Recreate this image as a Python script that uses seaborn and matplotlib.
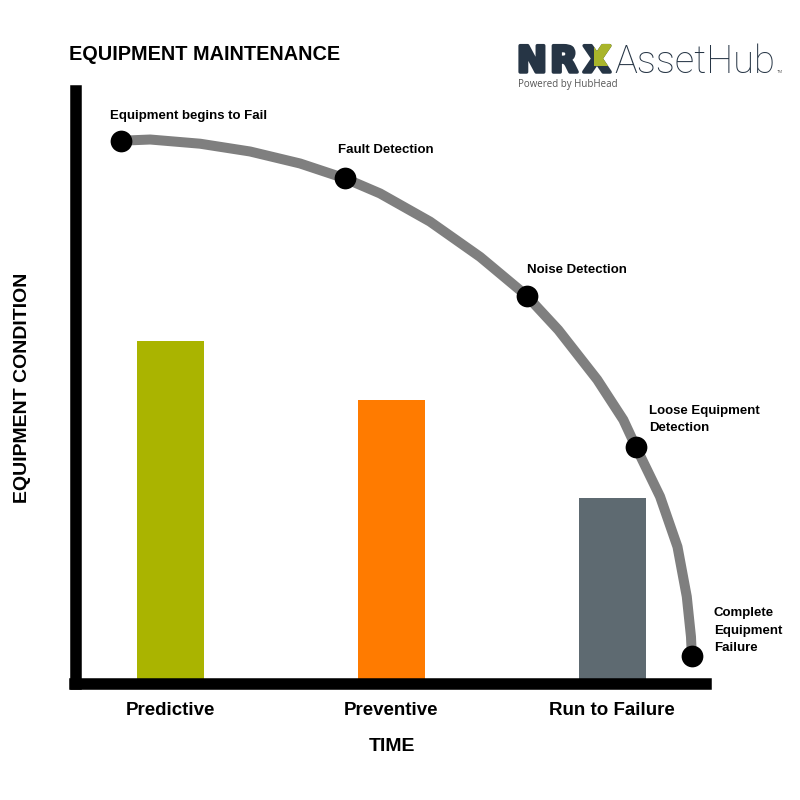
import numpy as np
import pandas as pd
import matplotlib
matplotlib.use("Agg")
import matplotlib.pyplot as plt
import matplotlib.patheffects as pe
from matplotlib.patches import Rectangle
import seaborn as sns

# bar data (condition units, 0-100 scale)
categories = ["Predictive", "Preventive", "Run to Failure"]
bar_values = [57.3, 47.4, 31.1]
bar_colors = ["#aab400", "#ff7b00", "#5e6a71"]

# degradation curve
curve_x = [-0.222, -0.090, 0.136, 0.362, 0.588, 0.792, 0.950, 1.176, 1.403, 1.614,
           1.757, 1.933, 2.051, 2.109, 2.217, 2.296, 2.338, 2.357, 2.361]
curve_y = [90.7, 90.9, 90.2, 88.9, 86.9, 84.4, 81.9, 77.2, 71.3, 64.8,
           59.1, 50.8, 44.1, 39.5, 31.3, 22.9, 14.6, 7.9, 4.7]

# the five milestones on the curve
stage_labels = ["Equipment begins to Fail", "Fault Detection", "Noise Detection",
                "Loose Equipment\nDetection", "Complete\nEquipment\nFailure"]
stage_x = [-0.222, 0.792, 1.614, 2.109, 2.361]
stage_y = [90.7, 84.4, 64.8, 39.5, 4.7]

sns.set_style("white")
plt.rcParams['font.family'] = ['Liberation Sans', 'DejaVu Sans']
plt.rcParams['text.color'] = 'black'
plt.rcParams['axes.labelcolor'] = 'black'
plt.rcParams['xtick.color'] = 'black'

fig = plt.figure(figsize=(8, 8), dpi=100)
ax = fig.add_axes([75.5 / 800, 116 / 800, 630.5 / 800, 593 / 800])

df = pd.DataFrame({"strategy": categories, "condition": bar_values})
sns.barplot(data=df, x="strategy", y="condition", hue="strategy",
            palette=bar_colors, width=0.303, saturation=1, errorbar=None,
            legend=False, linewidth=0, ax=ax)

sns.lineplot(x=curve_x, y=curve_y, sort=False, color="#7f7f7f",
             linewidth=7.2, ax=ax, zorder=3)
ax.lines[-1].set_solid_capstyle("round")
ax.lines[-1].set_solid_joinstyle("round")
sns.scatterplot(x=stage_x, y=stage_y, color="black", s=245,
                linewidth=0, ax=ax, zorder=4)

offsets = [(-11, 25), (-7, 28), (0, 26), (13, 28), (22, 25)]
for lab, x, y, off in zip(stage_labels, stage_x, stage_y, offsets):
    ax.annotate(lab, (x, y), xytext=off, textcoords="offset pixels",
                ha="left", va="center", fontsize=9.5, fontweight="bold",
                linespacing=1.62)

ax.set_xlim(-0.428, 2.425)
ax.set_ylim(0, 99)
ax.set_xticks([0, 1, 2])
ax.set_xticklabels(categories, fontsize=13.5, fontweight="bold")
ax.set_yticks([])
ax.tick_params(length=0, pad=13)

sns.despine(ax=ax)
for side in ["left", "bottom"]:
    ax.spines[side].set_linewidth(8.3)
    ax.spines[side].set_color("black")
    ax.spines[side].set_capstyle("projecting")
    ax.spines[side].set_zorder(2.5)

ax.set_xlabel("TIME", fontsize=14, fontweight="bold", va="center")
ax.xaxis.set_label_coords(0.502, -0.1046)
ax.set_ylabel("EQUIPMENT CONDITION", fontsize=14, fontweight="bold", va="center")
ax.yaxis.set_label_coords(-0.0833, 0.499)

fig.text(69 / 800, 1 - 54 / 800, "EQUIPMENT MAINTENANCE", ha="left", va="center",
         fontsize=14.3, fontweight="bold")

# logo
navy = "#263545"
green = "#a9b52b"
for ch, cx in zip("NR", [532, 564]):
    fig.text(cx / 800, 1 - 72 / 800, ch, ha="center", va="baseline",
             fontsize=26, fontweight="bold", family="DejaVu Sans", color=navy,
             path_effects=[pe.withStroke(linewidth=2.5, foreground=navy)])
fig.text(597 / 800, 1 - 72 / 800, "X", ha="center", va="baseline",
         fontsize=26, fontweight="bold", family="DejaVu Sans", color=navy,
         path_effects=[pe.withStroke(linewidth=2.5, foreground=navy)])
gx = fig.text(597 / 800, 1 - 72 / 800, "X", ha="center", va="baseline",
              fontsize=26, fontweight="bold", family="DejaVu Sans", color=green,
              path_effects=[pe.withStroke(linewidth=2.5, foreground=green)])
clip = Rectangle((594 / 800, 1 - 66 / 800), 22 / 800, 25 / 800,
                 transform=fig.transFigure, visible=False)
fig.add_artist(clip)
gx.set_clip_path(clip)
fig.text(614 / 800, 1 - 73 / 800, "AssetHub", ha="left", va="baseline",
         fontsize=27.5, fontweight="light", family="Roboto", color=navy)
fig.text(777 / 800, 1 - 73 / 800, "TM", ha="left", va="baseline",
         fontsize=3, family="Roboto", color="#666666")
fig.text(518 / 800, 1 - 84 / 800, "Powered by HubHead", ha="left", va="center",
         fontsize=7, family="Open Sans", color="#555555")

fig.savefig("out.png", dpi=100)
